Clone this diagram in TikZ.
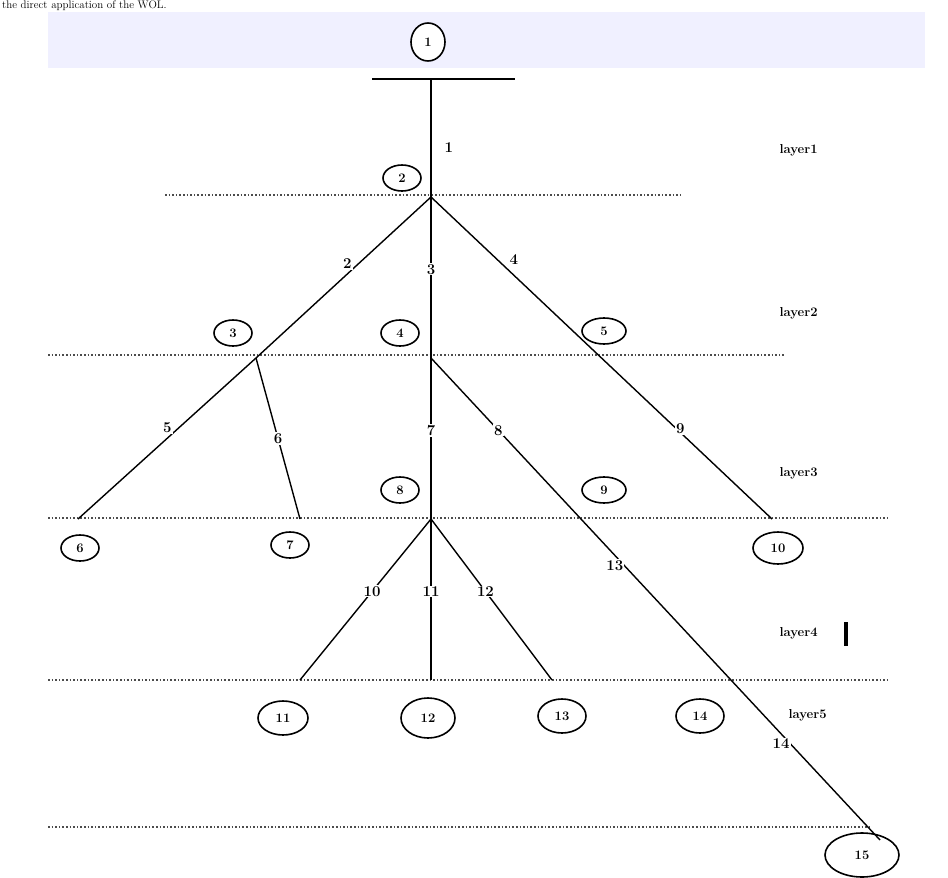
\documentclass[tikz,border=0pt]{standalone}
\usetikzlibrary{shapes.geometric}
\begin{document}
\begin{tikzpicture}[x=1pt,y=-1pt,
  nd/.style={draw,line width=1.6pt,ellipse,minimum width=#1,minimum height=26pt,inner sep=0pt,font=\fontsize{13}{14}\selectfont\bfseries,fill=white},
  nd/.default=38pt,
  lay/.style={draw,dotted,line width=1.6pt,gray!60!black},
  ed/.style={line width=1.4pt},
  el/.style={font=\fontsize{15}{16}\selectfont\bfseries,inner sep=1pt,fill=white},
  ll/.style={font=\fontsize{13}{14}\selectfont\bfseries,anchor=west}]
\useasboundingbox (0,0) rectangle (948,878);
\clip (0,0) rectangle (948,878);
\fill[blue!6] (48,12) rectangle (925,68);
\node[anchor=north west,font=\fontsize{11}{11}\selectfont,inner sep=0pt] (cap) at (2,0.5) {the direct application of the WOL.};
% layer lines
\draw[lay] (165,195) -- (680,195);
\draw[lay] (48,355) -- (785,355);
\draw[lay] (48,518) -- (888,518);
\draw[lay] (48,680) -- (888,680);
\draw[lay] (48,827) -- (870,827);
% junction coordinates
\coordinate (t) at (431,79);
\coordinate (r) at (431,197);
\coordinate (a) at (256,358);
\coordinate (b) at (431,358);
\coordinate (c) at (431,519);
\coordinate (l6) at (78,519);
\coordinate (l7) at (300,519);
\coordinate (l10) at (772,519);
\coordinate (l11) at (300,680);
\coordinate (l12) at (431,680);
\coordinate (l13) at (552,680);
\coordinate (l15) at (880,840);
\coordinate (hl) at (372,79);
\coordinate (hr) at (515,79);
\draw[ed] (hl) -- (hr);
% nodes
\node[nd=34pt,minimum height=38pt] (n1) at (428,42) {1};
\node[nd] (n2) at (402,178) {2};
\node[nd] (n3) at (233,333) {3};
\node[nd] (n4) at (400,333) {4};
\node[nd=44pt] (n5) at (604,331) {5};
\node[nd] (n8) at (400,490) {8};
\node[nd=44pt] (n9) at (604,490) {9};
\node[nd] (n6) at (80,548) {6};
\node[nd] (n7) at (290,545) {7};
\node[nd=50pt,minimum height=32pt] (n10) at (778,548) {10};
\node[nd=50pt,minimum height=34pt] (n11) at (283,718) {11};
\node[nd=54pt,minimum height=40pt] (n12) at (428,718) {12};
\node[nd=48pt,minimum height=34pt] (n13) at (562,716) {13};
\node[nd=48pt,minimum height=34pt] (n14) at (700,716) {14};
\node[nd=74pt,minimum height=44pt] (n15) at (862,855) {15};
% edges
\draw[ed] (t) -- node[el,pos=0.58,right=12pt] {1} (r);
\draw[ed] (r) -- node[el,pos=0.45,above left=-1pt] {2} (a);
\draw[ed] (r) -- node[el,pos=0.45] {3} (b);
\draw[ed] (r) -- node[el,pos=0.22,above right=2pt] {4} node[el,pos=0.72,right=-2pt] {9} (l10);
\draw[ed] (a) -- node[el,pos=0.47,above left=-1pt] {5} (l6);
\draw[ed] (a) -- node[el,pos=0.5] {6} (l7);
\draw[ed] (b) -- node[el,pos=0.45] {7} (c);
\draw[ed] (b) -- node[el,pos=0.15] {8} node[el,pos=0.43,left=-1pt] {13} node[el,pos=0.8,left=-1pt] {14} (l15);
\draw[ed] (c) -- node[el,pos=0.45] {10} (l11);
\draw[ed] (c) -- node[el,pos=0.45] {11} (l12);
\draw[ed] (c) -- node[el,pos=0.45] {12} (l13);
% layer labels
\node[ll] (y1) at (776,150) {layer1};
\node[ll] (y2) at (776,313) {layer2};
\node[ll] (y3) at (776,473) {layer3};
\node[ll] (y4) at (776,633) {layer4};
\fill (844,622) rectangle (848,646);
\node[ll] (y5) at (785,715) {layer5};
\end{tikzpicture}
\end{document}
